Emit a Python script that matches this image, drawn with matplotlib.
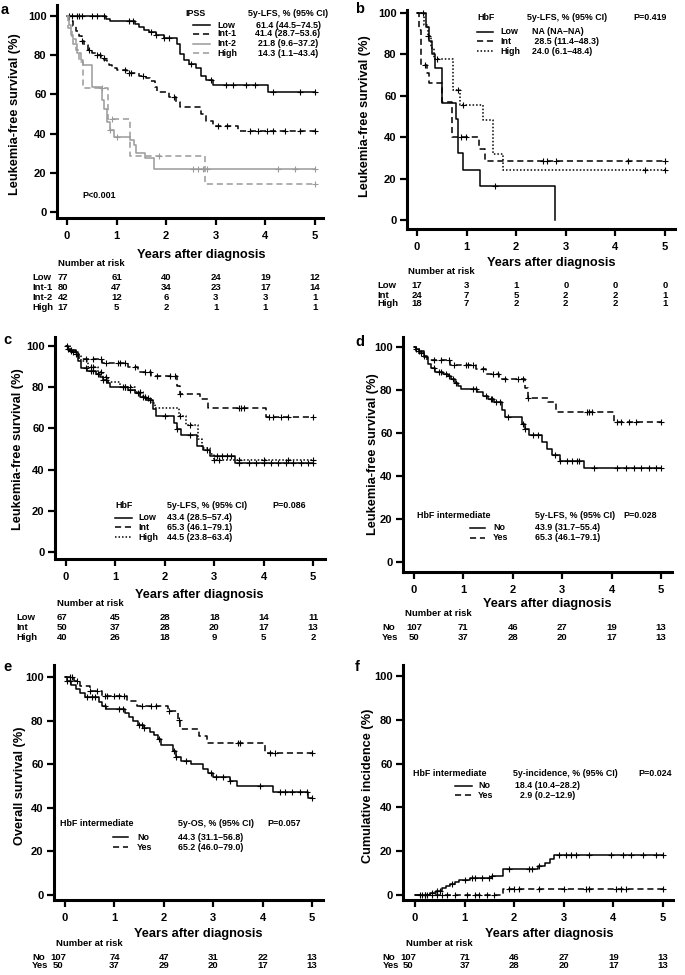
import numpy as np
import matplotlib
matplotlib.use("Agg")
import matplotlib.pyplot as plt
from matplotlib import transforms
from matplotlib.lines import Line2D

plt.rcParams['font.family'] = ['Liberation Sans', 'DejaVu Sans']
plt.rcParams['font.weight'] = 'bold'

W, H = 685, 975
GRAY = '#9a9a9a'
DASH = (0, (4, 2.5))
DOT = (0, (1, 1.3))

# ---------------- data ----------------
# panel a: LFS by IPSS
A_LOW_T = [0.78, 0.86, 1.38, 1.45, 1.55, 1.65, 1.8, 1.95, 2.22, 2.27, 2.35, 2.45, 2.6, 2.7, 2.8, 2.95, 4.05]
A_LOW_S = [98.7, 97.3, 95.9, 94.5, 93.1, 91.7, 90.2, 88.7, 85.5, 80.8, 77.5, 75.6, 73.4, 69.3, 67.2, 64.9, 61.4]
A_LOW_C = [0.05, 0.1, 0.2, 0.25, 0.3, 0.5, 0.6, 0.75, 1.24, 1.34, 1.7, 1.8, 1.95, 2.05, 2.5, 2.9, 3.2, 3.35, 3.6, 3.8, 4.15, 4.7, 5.0]
A_INT1_T = [0.05, 0.12, 0.18, 0.25, 0.3, 0.35, 0.42, 0.5, 0.6, 0.68, 0.75, 0.8, 0.85, 0.9, 1.0, 1.2, 1.45, 1.6, 1.68, 1.78, 1.82, 2.05, 2.2, 2.28, 2.7, 2.8, 2.95, 3.45]
A_INT1_S = [97.5, 95.0, 92.5, 90.0, 87.5, 85.0, 82.5, 81.2, 80.0, 78.7, 77.4, 76.1, 74.8, 73.5, 72.2, 70.9, 69.6, 68.2, 66.8, 63.8, 61.3, 58.8, 56.2, 53.5, 50.0, 46.5, 43.9, 41.4]
A_INT1_C = [0.3, 0.44, 0.6, 0.67, 0.74, 1.17, 1.24, 1.3, 1.54, 2.15, 3.05, 3.22, 3.69, 3.86, 4.03, 4.16, 4.4, 4.7, 5.0]
A_INT2_T = [0.04, 0.08, 0.13, 0.2, 0.28, 0.33, 0.5, 0.7, 0.75, 0.8, 0.86, 0.95, 1.28, 1.35, 1.4, 1.58, 1.76]
A_INT2_S = [95.2, 90.5, 85.7, 81.0, 77.5, 75.0, 64.0, 57.0, 52.5, 46.0, 41.8, 38.5, 36.5, 34.2, 30.0, 27.8, 21.8]
A_INT2_C = [0.87, 1.0, 2.55, 2.65, 2.75, 2.82, 4.25, 4.6, 5.0]
A_HIGH_T = [0.03, 0.1, 0.18, 0.25, 0.33, 0.83, 1.28, 2.78]
A_HIGH_S = [94.1, 88.2, 82.4, 76.5, 63.5, 47.6, 28.6, 14.3]
A_HIGH_C = [0.7, 0.9, 1.85, 5.0]
A_RISK = {'Low': [77, 61, 40, 24, 19, 12], 'Int-1': [80, 47, 34, 23, 17, 14],
          'Int-2': [42, 12, 6, 3, 3, 1], 'High': [17, 5, 2, 1, 1, 1]}

# panel b: LFS by HbF (subgroup)
B_LOW_T = [0.18, 0.24, 0.3, 0.36, 0.5, 0.78, 0.83, 0.92, 1.28, 2.78]
B_LOW_S = [93.3, 86.7, 80.0, 73.3, 56.7, 48.6, 32.4, 24.3, 16.2, 0.0]
B_LOW_C = [0.12, 1.58]
B_INT_T = [0.05, 0.09, 0.2, 0.25, 0.5, 0.7, 1.25, 1.38]
B_INT_S = [91.7, 75.0, 70.8, 66.4, 56.9, 40.0, 34.3, 28.5]
B_INT_C = [0.17, 0.88, 0.98, 2.55, 2.62, 2.8, 4.25, 5.0]
B_HIGH_T = [0.15, 0.22, 0.28, 0.35, 0.72, 0.86, 1.33, 1.53, 1.74]
B_HIGH_S = [94.4, 88.9, 83.3, 77.8, 63.0, 55.6, 48.1, 32.1, 24.0]
B_HIGH_C = [0.23, 0.4, 0.83, 0.93, 4.6, 5.0]
B_RISK = {'Low': [17, 3, 1, 0, 0, 0], 'Int': [24, 7, 5, 2, 2, 1], 'High': [18, 7, 2, 2, 2, 1]}

# panel c: LFS by HbF
C_LOW_T = [0.04, 0.1, 0.25, 0.3, 0.42, 0.6, 0.68, 0.75, 0.82, 0.9, 1.25, 1.4, 1.5, 1.62, 1.77, 1.83, 2.18, 2.24, 2.32, 2.65, 2.78, 2.92, 3.42]
C_LOW_S = [98.5, 97.0, 92.5, 89.5, 88.0, 86.5, 85.0, 83.4, 81.9, 80.3, 78.7, 77.0, 75.4, 73.7, 69.5, 66.0, 62.5, 59.5, 56.8, 51.5, 49.3, 46.7, 43.4]
C_LOW_C = [0.05, 0.15, 0.4, 0.5, 0.55, 0.65, 0.75, 0.8, 1.15, 1.2, 1.3, 1.45, 1.55, 1.6, 1.7, 2.0, 2.25, 2.5, 2.85, 3.05, 3.15,
           3.25, 3.35, 3.5, 3.7, 3.85, 4.0, 4.15, 4.3, 4.45, 4.6, 4.75, 4.9, 5.0]
C_INT_T = [0.05, 0.2, 0.27, 0.72, 1.25, 1.45, 1.72, 2.25, 2.3, 2.72, 2.88, 4.05]
C_INT_S = [98.0, 96.0, 93.9, 91.8, 89.6, 87.4, 85.2, 80.8, 76.5, 74.2, 69.7, 65.3]
C_INT_C = [0.1, 0.2, 0.4, 0.55, 0.7, 0.8, 1.05, 1.1, 1.2, 1.4, 1.6, 1.7, 1.85, 2.1, 2.2, 2.3, 3.5, 3.55, 3.6, 4.1, 4.2, 4.35, 4.5, 5.0]
C_HIGH_T = [0.08, 0.2, 0.3, 0.45, 0.65, 0.75, 0.85, 1.1, 1.4, 1.55, 1.72, 1.8, 2.28, 2.42, 2.68, 2.75, 2.92, 3.0]
C_HIGH_S = [97.5, 95.0, 92.5, 90.0, 87.5, 85.0, 82.5, 80.0, 77.5, 75.0, 72.5, 69.8, 66.0, 61.5, 55.0, 50.5, 47.5, 44.5]
C_HIGH_C = [0.02, 0.1, 0.5, 0.55, 0.7, 0.8, 1.2, 1.3, 1.5, 1.65, 2.3, 2.5, 3.0, 3.1, 3.5, 4.0, 4.5, 5.0]
C_RISK = {'Low': [67, 45, 28, 18, 14, 11], 'Int': [50, 37, 28, 20, 17, 13], 'High': [40, 26, 18, 9, 5, 2]}

# panel d: LFS by HbF intermediate
D_NO_T = [0.04, 0.1, 0.2, 0.28, 0.35, 0.42, 0.58, 0.68, 0.75, 0.82, 0.9, 0.95, 1.28, 1.4, 1.5, 1.62, 1.78, 1.84, 2.18, 2.24,
          2.32, 2.6, 2.7, 2.8, 2.95, 3.45]
D_NO_S = [99.0, 97.1, 95.2, 92.3, 90.4, 88.4, 87.4, 86.3, 85.2, 83.1, 82.0, 80.6, 79.0, 77.4, 75.8, 74.2, 70.8, 67.4, 64.0, 62.0,
          59.0, 56.0, 52.5, 50.0, 47.0, 43.9]
D_NO_C = [0.05, 0.15, 0.4, 0.5, 0.55, 0.65, 0.7, 0.78, 0.85, 1.2, 1.25, 1.45, 1.55, 1.58, 1.65, 1.75, 1.9, 2.2, 2.25, 2.4, 2.5,
          2.85, 2.95, 3.1, 3.2, 3.3, 3.35, 3.65, 4.1, 4.3, 4.45, 4.6, 4.75, 4.9, 5.0]
D_YES_T = C_INT_T
D_YES_S = C_INT_S
D_YES_C = C_INT_C
D_RISK = {'No': [107, 71, 46, 27, 19, 13], 'Yes': [50, 37, 28, 20, 17, 13]}

# panel e: OS by HbF intermediate
E_NO_T = [0.04, 0.12, 0.22, 0.3, 0.4, 0.68, 0.75, 0.82, 1.22, 1.3, 1.38, 1.48, 1.6, 1.72, 1.8, 1.88, 1.95, 2.18, 2.25, 2.35,
          2.55, 2.8, 2.9, 3.0, 3.35, 3.48, 4.22, 4.92]
E_NO_S = [98.1, 96.3, 94.4, 92.5, 90.6, 88.7, 86.8, 85.3, 83.5, 81.6, 79.7, 78.2, 76.6, 75.0, 73.3, 71.5, 68.7, 66.0, 63.5, 61.5,
          60.0, 58.0, 56.0, 54.0, 52.1, 50.0, 47.4, 44.3]
E_NO_C = [0.05, 0.1, 0.45, 0.55, 0.6, 0.8, 1.1, 1.18, 1.5, 1.55, 1.6, 1.9, 2.2, 2.25, 2.45, 2.95, 3.05, 3.2, 3.35, 3.95, 4.35,
          4.45, 4.6, 4.75, 4.9, 5.0]
E_YES_T = [0.18, 0.3, 0.5, 0.75, 1.25, 1.45, 2.08, 2.28, 2.32, 2.72, 2.88, 4.05]
E_YES_S = [98.0, 95.9, 93.7, 91.5, 89.2, 86.8, 84.5, 80.5, 76.1, 73.0, 69.6, 65.2]
E_YES_C = [0.1, 0.15, 0.25, 0.5, 0.65, 0.8, 0.85, 1.0, 1.1, 1.2, 1.55, 1.75, 1.85, 2.1, 2.3, 3.5, 3.55, 4.15, 4.25, 5.0]
E_RISK = {'No': [107, 74, 47, 31, 22, 13], 'Yes': [50, 37, 29, 20, 17, 13]}

# panel f: cumulative incidence of AML
F_NO_T = [0.3, 0.42, 0.55, 0.62, 0.7, 0.8, 0.88, 1.1, 1.55, 1.78, 2.48, 2.62, 2.72, 2.8]
F_NO_S = [1.0, 2.0, 3.0, 4.0, 5.0, 6.0, 7.0, 7.8, 8.8, 11.8, 13.2, 14.8, 16.5, 18.4]
F_NO_C = [0.15, 0.2, 0.25, 0.35, 0.45, 0.5, 0.75, 1.0, 1.15, 1.2, 1.35, 1.5, 1.55, 1.9, 2.3, 2.35, 2.5, 2.9, 3.05, 3.15, 3.25,
          3.5, 3.95, 4.2, 4.35, 4.6, 4.85, 5.0]
F_YES_T = [1.77]
F_YES_S = [2.9]
F_YES_C = [0.1, 0.2, 0.35, 0.45, 0.55, 0.65, 0.8, 1.05, 1.2, 1.3, 1.45, 1.6, 1.9, 2.0, 2.1, 2.5, 3.0, 3.45, 3.5, 4.05, 4.15,
           4.25, 5.0]
F_RISK = {'No': [107, 71, 46, 27, 19, 13], 'Yes': [50, 37, 28, 20, 17, 13]}

YEARS = [0, 1, 2, 3, 4, 5]
YTICKS = [0, 20, 40, 60, 80, 100]
SMALL = 6.4   # legend text
TABLE = 6.8   # number-at-risk text


def fx(px):
    return px / W


def fy(py):
    return 1 - py / H


def make_ax(fig, box, x0, x5, y0, y100):
    left, right, top, bottom = box
    ax = fig.add_axes([fx(left), fy(bottom), (right - left) / W, (bottom - top) / H])
    kx = (x5 - x0) / 5.0
    ky = (y0 - y100) / 100.0
    ax.set_xlim((left - x0) / kx, (right - x0) / kx)
    ax.set_ylim((y0 - bottom) / ky, (y0 - top) / ky)
    for s in ['top', 'right']:
        ax.spines[s].set_visible(False)
    for s in ['left', 'bottom']:
        ax.spines[s].set_linewidth(2.2)
    ax.set_xticks(YEARS)
    ax.set_yticks(YTICKS)
    ax.tick_params(direction='out', length=5, width=1.6, labelsize=8)
    ax.tick_params(axis='x', pad=4.5)
    ax.tick_params(axis='y', pad=2.5)
    ax.patch.set_alpha(0)
    return ax


def draw_curve(ax, t, s, cens, color, ls, start=100, end=5.0):
    x = np.r_[0, t, end]
    y = np.r_[start, s, s[-1]]
    ax.step(x, y, where='post', color=color, ls=ls, lw=1.1, clip_on=False)
    levels = np.r_[start, s]
    idx = np.searchsorted(t, cens, side='right')
    ax.plot(cens, levels[idx], ls='none', marker='+', ms=5, mew=0.8, color=color, clip_on=False)


def risk_table(fig, ax, risk, nar_y, rows_y, label_x, first_x):
    tr = transforms.blended_transform_factory(ax.transData, fig.transFigure)
    ax.text(-0.18, fy(nar_y), 'Number at risk', transform=tr, fontsize=TABLE, ha='left', va='center')
    cols = [first_x] + YEARS[1:]
    for (name, vals), ry in zip(risk.items(), rows_y):
        ax.text(label_x, fy(ry), name, transform=tr, fontsize=TABLE, ha='left', va='center')
        for cx, v in zip(cols, vals):
            ax.text(cx, fy(ry), str(v), transform=tr, fontsize=TABLE, ha='center', va='center')


def axis_labels(fig, ax, ylabel, ylab_x, xlab_y):
    tr_x = transforms.blended_transform_factory(ax.transData, fig.transFigure)
    ax.text(2.7, fy(xlab_y), 'Years after diagnosis', transform=tr_x, fontsize=9.2, ha='center', va='center')
    tr_y = transforms.blended_transform_factory(fig.transFigure, ax.transData)
    ax.text(fx(ylab_x), 50, ylabel, transform=tr_y, fontsize=9.2, rotation=90, ha='center', va='center')


def legend(fig, header, rows, hy, rows_y, line_x, lab_x, val_x, p=None, val_ha='left'):
    for txt, x in header:
        fig.text(fx(x), fy(hy), txt, fontsize=SMALL, ha='left', va='center')
    if p is not None:
        fig.text(fx(p[1]), fy(hy), p[0], fontsize=SMALL, ha='left', va='center')
    for (name, val, color, ls), ry in zip(rows, rows_y):
        fig.add_artist(Line2D([fx(line_x[0]), fx(line_x[1])], [fy(ry), fy(ry)], transform=fig.transFigure,
                              color=color, ls=ls, lw=1.1))
        fig.text(fx(lab_x), fy(ry), name, fontsize=SMALL, ha='left', va='center')
        fig.text(fx(val_x), fy(ry), val, fontsize=SMALL, ha=val_ha, va='center')


fig = plt.figure(figsize=(W / 100, H / 100), dpi=100)

# ---- a ----
ax = make_ax(fig, (57, 323, 5, 218), 67, 315, 212, 16)
draw_curve(ax, A_LOW_T, A_LOW_S, A_LOW_C, 'black', '-')
draw_curve(ax, A_INT1_T, A_INT1_S, A_INT1_C, 'black', DASH)
draw_curve(ax, A_INT2_T, A_INT2_S, A_INT2_C, GRAY, '-')
draw_curve(ax, A_HIGH_T, A_HIGH_S, A_HIGH_C, GRAY, DASH)
axis_labels(fig, ax, 'Leukemia-free survival (%)', 15, 255)
risk_table(fig, ax, A_RISK, 263, [278, 288, 298, 308], -0.7, -0.08)
legend(fig, [('IPSS', 185), ('5y-LFS, % (95% CI)', 248)],
       [('Low', '61.4 (44.5–74.5)', 'black', '-'), ('Int-1', '41.4 (28.7–53.6)', 'black', DASH),
        ('Int-2', '21.8 (9.6–37.2)', GRAY, '-'), ('High', '14.3 (1.1–43.4)', GRAY, DASH)],
       13, [25, 34, 44, 53], (193, 210), 217, 288, val_ha='center')
fig.text(fx(82), fy(195), 'P<0.001', fontsize=SMALL, ha='left', va='center')
fig.text(fx(1), fy(10), 'a', fontsize=10.5, ha='left', va='center')

# ---- b ----
ax = make_ax(fig, (407, 675, 10, 229), 417, 665, 220, 13)
draw_curve(ax, B_LOW_T, B_LOW_S, B_LOW_C, 'black', '-', end=B_LOW_T[-1])
draw_curve(ax, B_INT_T, B_INT_S, B_INT_C, 'black', DASH)
draw_curve(ax, B_HIGH_T, B_HIGH_S, B_HIGH_C, 'black', DOT)
axis_labels(fig, ax, 'Leukemia-free survival (%)', 365, 263)
risk_table(fig, ax, B_RISK, 272, [286, 295, 304], -0.8, 0.0)
legend(fig, [('HbF', 477), ('5y-LFS, % (95% CI)', 527)],
       [('Low', 'NA (NA–NA)', 'black', '-'), ('Int', ' 28.5 (11.4–48.3)', 'black', DASH),
        ('High', '24.0 (6.1–48.4)', 'black', DOT)],
       17, [32, 41, 51], (477, 493), 500, 532, p=('P=0.419', 633))
fig.text(fx(355), fy(9), 'b', fontsize=10.5, ha='left', va='center')

# ---- c ----
ax = make_ax(fig, (55, 325, 337, 559), 66, 313, 552, 346)
draw_curve(ax, C_LOW_T, C_LOW_S, C_LOW_C, 'black', '-')
draw_curve(ax, C_INT_T, C_INT_S, C_INT_C, 'black', DASH)
draw_curve(ax, C_HIGH_T, C_HIGH_S, C_HIGH_C, 'black', DOT)
axis_labels(fig, ax, 'Leukemia-free survival (%)', 18, 595)
risk_table(fig, ax, C_RISK, 603, [618, 627, 637], -1.0, -0.08)
legend(fig, [('HbF', 115), ('5y-LFS, % (95% CI)', 167)],
       [('Low', '43.4 (28.5–57.4)', 'black', '-'), ('Int', '65.3 (46.1–79.1)', 'black', DASH),
        ('High', '44.5 (23.8–63.4)', 'black', DOT)],
       505, [518, 527, 537], (115, 132), 138, 167, p=('P=0.086', 272))
fig.text(fx(3), fy(340), 'c', fontsize=10.5, ha='left', va='center')

# ---- d ----
ax = make_ax(fig, (403, 672, 337, 572), 414, 661, 562, 347)
draw_curve(ax, D_NO_T, D_NO_S, D_NO_C, 'black', '-')
draw_curve(ax, D_YES_T, D_YES_S, D_YES_C, 'black', DASH)
axis_labels(fig, ax, 'Leukemia-free survival (%)', 373, 604)
risk_table(fig, ax, D_RISK, 613, [627, 638], -0.65, 0.0)
legend(fig, [('HbF intermediate', 417), ('5y-LFS, % (95% CI)', 535)],
       [('No', '43.9 (31.7–55.4)', 'black', '-'), ('Yes', '65.3 (46.1–79.1)', 'black', DASH)],
       516, [528, 538], (470, 485), 493, 535, p=('P=0.028', 623))
fig.text(fx(355), fy(342), 'd', fontsize=10.5, ha='left', va='center')

# ---- e ----
ax = make_ax(fig, (54, 323, 665, 900), 65, 312, 895, 677)
draw_curve(ax, E_NO_T, E_NO_S, E_NO_C, 'black', '-')
draw_curve(ax, E_YES_T, E_YES_S, E_YES_C, 'black', DASH)
axis_labels(fig, ax, 'Overall survival (%)', 20, 934)
risk_table(fig, ax, E_RISK, 944, [957, 966], -0.67, -0.14)
legend(fig, [('HbF intermediate', 60), ('5y-OS, % (95% CI)', 178)],
       [('No', '44.3 (31.1–56.8)', 'black', '-'), ('Yes', '65.2 (46.0–79.0)', 'black', DASH)],
       823, [837, 847], (113, 128), 137, 178, p=('P=0.057', 267))
fig.text(fx(3), fy(667), 'e', fontsize=10.5, ha='left', va='center')

# ---- f ----
ax = make_ax(fig, (403, 673, 665, 900), 415, 663, 895, 676)
draw_curve(ax, F_NO_T, F_NO_S, F_NO_C, 'black', '-', start=0)
draw_curve(ax, F_YES_T, F_YES_S, F_YES_C, 'black', DASH, start=0)
axis_labels(fig, ax, 'Cumulative incidence (%)', 368, 934)
risk_table(fig, ax, F_RISK, 944, [957, 966], -0.65, -0.14)
legend(fig, [('HbF intermediate', 413), ('5y-incidence, % (95% CI)', 513)],
       [('No', '18.4 (10.4–28.2)', 'black', '-'), ('Yes', '  2.9 (0.2–12.9)', 'black', DASH)],
       773, [786, 795], (455, 472), 478, 515, p=('P=0.024', 638))
fig.text(fx(355), fy(667), 'f', fontsize=10.5, ha='left', va='center')

fig.savefig('out.png', dpi=100)
